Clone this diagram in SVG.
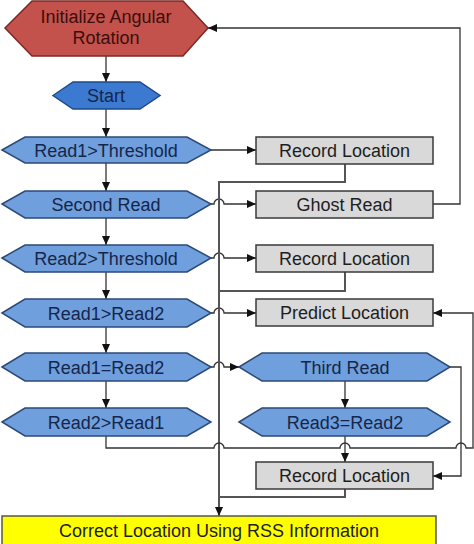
<svg xmlns="http://www.w3.org/2000/svg" width="474" height="544" viewBox="0 0 474 544">
<style>
.hex{fill:#6f9fdc;stroke:#2c4a78;stroke-width:1.5}
.start{fill:#3b7ad0;stroke:#1f4a86;stroke-width:1.5}
.init{fill:#c4524c;stroke:#7a2a26;stroke-width:1.5}
.box{fill:#d9d9d9;stroke:#3a3a3a;stroke-width:1.5}
.yel{fill:#ffff00;stroke:#555;stroke-width:1.5}
text{font-family:"Liberation Sans",Arial,sans-serif;font-size:18px;text-anchor:middle}
.tb{fill:#16264a}
.tr{fill:#3a0e0c}
.tg{fill:#1e1e1e}
.c{fill:none;stroke:#333;stroke-width:1.3}
.v{fill:none;stroke:#555;stroke-width:2}
</style>
<defs>
<marker id="ar" markerUnits="userSpaceOnUse" markerWidth="9" markerHeight="8" refX="9" refY="4" orient="auto">
<path d="M0,0 L9,4 L0,8 z" fill="#111"/>
</marker>
</defs>
<g id="connectors">
<path class="c" d="M106,56 V82" marker-end="url(#ar)"/>
<path class="c" d="M106,109 V137" marker-end="url(#ar)"/>
<path class="c" d="M106,163 V191" marker-end="url(#ar)"/>
<path class="c" d="M106,218 V245" marker-end="url(#ar)"/>
<path class="c" d="M106,272 V299" marker-end="url(#ar)"/>
<path class="c" d="M106,327 V353" marker-end="url(#ar)"/>
<path class="c" d="M106,381 V408" marker-end="url(#ar)"/>
<path class="c" d="M211,150 H256" marker-end="url(#ar)"/>
<path class="c" d="M211,204 H214 a5,5 0 0 1 10,0 H256" marker-end="url(#ar)"/>
<path class="c" d="M211,258 H214 a5,5 0 0 1 10,0 H256" marker-end="url(#ar)"/>
<path class="c" d="M211,313 H214 a5,5 0 0 1 10,0 H256" marker-end="url(#ar)"/>
<path class="c" d="M211,367 H214 a5,5 0 0 1 10,0 H239" marker-end="url(#ar)"/>
<path class="v" d="M345,164 V182 H219 V516" marker-end="url(#ar)"/>
<path class="v" d="M345,272 V291 H219"/>
<path class="v" d="M345,489 V497 H219"/>
<path class="c" d="M433,204 H460 V28 H208" marker-end="url(#ar)"/>
<path class="c" d="M345,381 V408" marker-end="url(#ar)"/>
<path class="c" d="M450,367 H461 V476 H433" marker-end="url(#ar)"/>
<path class="c" d="M106,436 V448 H214 a5,5 0 0 1 10,0 H340 a5,5 0 0 1 10,0 H456 a5,5 0 0 1 10,0 H473 V313 H433" marker-end="url(#ar)"/>
<path class="c" d="M345,436 V462" marker-end="url(#ar)"/>
</g>
<g id="init"><polygon class="init" points="5,28 32,1 183,1 208,28 183,56 32,56"/><text class="tr" x="106" y="23">Initialize Angular</text><text class="tr" x="106" y="44">Rotation</text></g>
<g id="start"><polygon class="start" points="53,95.5 73,82 140,82 160,95.5 140,109 73,109"/><text class="tb" x="106" y="102">Start</text></g>
<g id="r1t"><polygon class="hex" points="2,150 25,137 187,137 211,150 187,163 25,163"/><text class="tb" x="106" y="156.5">Read1&gt;Threshold</text></g>
<g id="sr"><polygon class="hex" points="2,204 25,191 187,191 211,204 187,218 25,218"/><text class="tb" x="106" y="210.5">Second Read</text></g>
<g id="r2t"><polygon class="hex" points="2,258 25,245 187,245 211,258 187,272 25,272"/><text class="tb" x="106" y="264.5">Read2&gt;Threshold</text></g>
<g id="r1r2"><polygon class="hex" points="2,313 25,299 187,299 211,313 187,327 25,327"/><text class="tb" x="106" y="319.5">Read1&gt;Read2</text></g>
<g id="r1er2"><polygon class="hex" points="2,367 25,353 187,353 211,367 187,381 25,381"/><text class="tb" x="106" y="373.5">Read1=Read2</text></g>
<g id="r2r1"><polygon class="hex" points="2,422 25,408 187,408 211,422 187,436 25,436"/><text class="tb" x="106" y="428.5">Read2&gt;Read1</text></g>
<g id="third"><polygon class="hex" points="239,367 262,353 427,353 450,367 427,381 262,381"/><text class="tb" x="345" y="373.5">Third Read</text></g>
<g id="r3r2"><polygon class="hex" points="239,422 262,408 427,408 450,422 427,436 262,436"/><text class="tb" x="345" y="428.5">Read3=Read2</text></g>
<g id="rec1"><rect class="box" x="256" y="137" width="177" height="27"/><text class="tg" x="344.5" y="157">Record Location</text></g>
<g id="ghost"><rect class="box" x="256" y="191" width="177" height="27"/><text class="tg" x="344.5" y="211">Ghost Read</text></g>
<g id="rec2"><rect class="box" x="256" y="245" width="177" height="27"/><text class="tg" x="344.5" y="265">Record Location</text></g>
<g id="predict"><rect class="box" x="256" y="299" width="177" height="27"/><text class="tg" x="344.5" y="319">Predict Location</text></g>
<g id="rec3"><rect class="box" x="256" y="462" width="177" height="27"/><text class="tg" x="344.5" y="482">Record Location</text></g>
<g id="correct"><rect class="yel" x="2" y="516" width="434" height="32"/><text class="tg" x="219" y="536.5">Correct Location Using RSS Information</text></g>
</svg>
